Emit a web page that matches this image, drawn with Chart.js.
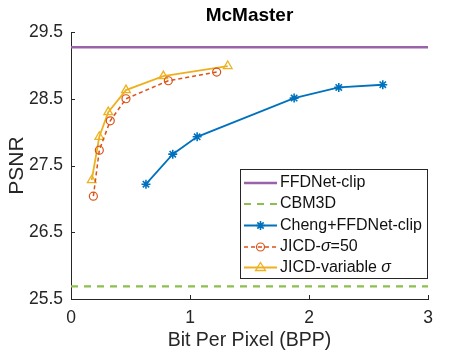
<!DOCTYPE html>
<html>
<head>
<meta charset="utf-8">
<script src="https://cdn.jsdelivr.net/npm/chart.js@4"></script>
<style>
  html, body { margin: 0; padding: 0; background: #fff; }
  #wrap { width: 474px; height: 355px; position: relative; }
</style>
</head>
<body>
<div id="wrap"><canvas id="c" width="474" height="355"></canvas></div>
<script>
// ---- data ----
const xTicks = [0, 1, 2, 3];
const yTicks = [25.5, 26.5, 27.5, 28.5, 29.5];
const xRange = [0, 3];

const psnrFFDNetClip = 29.27;
const psnrCBM3D = 25.69;

const bppCheng = [0.63, 0.855, 1.06, 1.875, 2.25, 2.62];
const psnrCheng = [27.22, 27.67, 27.93, 28.51, 28.67, 28.71];

const bppJicd50 = [0.188, 0.238, 0.33, 0.462, 0.818, 1.224];
const psnrJicd50 = [27.04, 27.73, 28.17, 28.50, 28.77, 28.90];

const bppJicdVar = [0.174, 0.238, 0.313, 0.462, 0.776, 1.317];
const psnrJicdVar = [27.28, 27.93, 28.30, 28.63, 28.84, 28.99];

const seriesLabels = ['FFDNet-clip', 'CBM3D', 'Cheng+FFDNet-clip', 'JICD-\u03c3=50', 'JICD-variable \u03c3'];

const FONT = '"Liberation Sans", Arial, Helvetica, sans-serif';
const AXIS = '#262626';

function pts(xs, ys) { return xs.map((x, i) => ({ x: x, y: ys[i] })); }

const datasets = [
  { label: seriesLabels[0], data: pts(xRange, [psnrFFDNetClip, psnrFFDNetClip]),
    borderColor: '#9a62a8', borderWidth: 2.5, pointRadius: 0, fill: false },
  { label: seriesLabels[1], data: pts(xRange, [psnrCBM3D, psnrCBM3D]),
    borderColor: '#8cbf4f', borderWidth: 2.2, borderDash: [7, 6], pointRadius: 0, fill: false },
  { label: seriesLabels[2], data: pts(bppCheng, psnrCheng),
    borderColor: '#0072BD', borderWidth: 1.8, pointStyle: 'star', pointRadius: 4.5,
    pointBorderColor: '#0072BD', pointBorderWidth: 1.6, pointBackgroundColor: '#0072BD', fill: false },
  { label: seriesLabels[3], data: pts(bppJicd50, psnrJicd50),
    borderColor: '#D95319', borderWidth: 1.5, borderDash: [4, 3], pointStyle: 'circle', pointRadius: 4,
    pointBorderColor: '#D95319', pointBorderWidth: 1.2, pointBackgroundColor: 'rgba(0,0,0,0)', fill: false },
  { label: seriesLabels[4], data: pts(bppJicdVar, psnrJicdVar),
    borderColor: '#EDB120', borderWidth: 1.8, pointStyle: 'triangle', pointRadius: 5,
    pointBorderColor: '#EDB120', pointBorderWidth: 1.3, pointBackgroundColor: 'rgba(0,0,0,0)', fill: false }
];

function drawMarker(ctx, style, x, y, r, color, bw) {
  ctx.save();
  ctx.strokeStyle = color; ctx.lineWidth = bw; ctx.setLineDash([]);
  ctx.beginPath();
  if (style === 'circle') {
    ctx.arc(x, y, r, 0, Math.PI * 2);
  } else if (style === 'triangle') {
    const s = r;
    ctx.moveTo(x, y - s);
    ctx.lineTo(x + s * 0.866 * 1.15, y + s * 0.6);
    ctx.lineTo(x - s * 0.866 * 1.15, y + s * 0.6);
    ctx.closePath();
  } else if (style === 'star') {
    ctx.moveTo(x - r, y); ctx.lineTo(x + r, y);
    ctx.moveTo(x, y - r); ctx.lineTo(x, y + r);
    const d = r * 0.707;
    ctx.moveTo(x - d, y - d); ctx.lineTo(x + d, y + d);
    ctx.moveTo(x - d, y + d); ctx.lineTo(x + d, y - d);
  }
  ctx.stroke();
  ctx.restore();
}

const innerTicksAndLegend = {
  id: 'innerTicksAndLegend',
  afterDatasetsDraw(chart) {
    const ctx = chart.ctx;
    const xs = chart.scales.x, ys = chart.scales.y;
    const area = chart.chartArea;
    ctx.save();
    ctx.strokeStyle = AXIS; ctx.lineWidth = 1;
    ctx.beginPath();
    xTicks.forEach(v => {
      const px = Math.round(xs.getPixelForValue(v)) + 0.5;
      ctx.moveTo(px, area.bottom); ctx.lineTo(px, area.bottom - 4);
    });
    yTicks.forEach(v => {
      const py = Math.round(ys.getPixelForValue(v)) + 0.5;
      ctx.moveTo(area.left, py); ctx.lineTo(area.left + 4, py);
    });
    ctx.stroke();

    // legend box (inside axes, lower right)
    const bx = 240.5, by = 169.5, bw = 187, bh = 109;
    ctx.fillStyle = '#ffffff';
    ctx.fillRect(bx, by, bw, bh);
    ctx.strokeStyle = AXIS; ctx.lineWidth = 1;
    ctx.strokeRect(bx, by, bw, bh);

    const rowY = [183, 204, 225.5, 247, 267.5];
    const lx0 = 244, lx1 = 277, tx = 280;
    chart.data.datasets.forEach((ds, i) => {
      const y = rowY[i];
      ctx.save();
      ctx.strokeStyle = ds.borderColor;
      ctx.lineWidth = ds.borderWidth;
      ctx.setLineDash(ds.borderDash || []);
      ctx.beginPath();
      ctx.moveTo(lx0, y); ctx.lineTo(lx1, y);
      ctx.stroke();
      ctx.restore();
      if (ds.pointRadius > 0) {
        drawMarker(ctx, ds.pointStyle, (lx0 + lx1) / 2, y, ds.pointRadius, ds.pointBorderColor, ds.pointBorderWidth);
      }
      // text, with sigma in italics
      ctx.fillStyle = '#111';
      ctx.textBaseline = 'middle';
      ctx.textAlign = 'left';
      const parts = ds.label.split('\u03c3');
      let x = tx;
      parts.forEach((p, k) => {
        ctx.font = '16px ' + FONT;
        ctx.fillText(p, x, y);
        x += ctx.measureText(p).width;
        if (k < parts.length - 1) {
          ctx.font = 'italic 16px ' + FONT;
          ctx.fillText('\u03c3', x, y);
          x += ctx.measureText('\u03c3').width;
        }
      });
    });
    ctx.restore();
  }
};

new Chart(document.getElementById('c'), {
  type: 'line',
  data: { datasets: datasets },
  plugins: [innerTicksAndLegend],
  options: {
    responsive: false,
    animation: false,
    devicePixelRatio: 1,
    layout: { padding: { left: 0, right: 46, top: 0, bottom: 0 } },
    plugins: {
      legend: { display: false },
      tooltip: { enabled: false },
      title: {
        display: true, text: 'McMaster', fullSize: false,
        color: '#000', font: { family: FONT, size: 19, weight: 'bold', lineHeight: 1.2 },
        padding: { top: 4, bottom: 5.2 }
      }
    },
    scales: {
      x: {
        type: 'linear', min: xRange[0], max: xRange[1],
        afterBuildTicks: s => { s.ticks = xTicks.map(v => ({ value: v })); },
        afterFit: s => { s.height = 56; },
        ticks: { color: AXIS, font: { family: FONT, size: 17.5 }, padding: 9, maxRotation: 0, autoSkip: false,
                 callback: v => String(v) },
        grid: { display: true, drawOnChartArea: false, drawTicks: false },
        border: { display: true, color: AXIS, width: 1 },
        title: { display: true, text: 'Bit Per Pixel (BPP)', color: AXIS,
                 font: { family: FONT, size: 19.5, lineHeight: 1.2 }, padding: { top: 0, bottom: 3 } }
      },
      y: {
        type: 'linear', min: 25.5, max: 29.5,
        afterBuildTicks: s => { s.ticks = yTicks.map(v => ({ value: v })); },
        afterFit: s => { s.width = 71; },
        ticks: { color: AXIS, font: { family: FONT, size: 17.5 }, padding: 8, autoSkip: false,
                 callback: v => v.toFixed(1) },
        grid: { display: true, drawOnChartArea: false, drawTicks: false },
        border: { display: true, color: AXIS, width: 1 },
        title: { display: true, text: 'PSNR', color: AXIS,
                 font: { family: FONT, size: 21, lineHeight: 1.2 }, padding: { top: 5, bottom: 0 } }
      }
    }
  }
});
</script>
</body>
</html>
